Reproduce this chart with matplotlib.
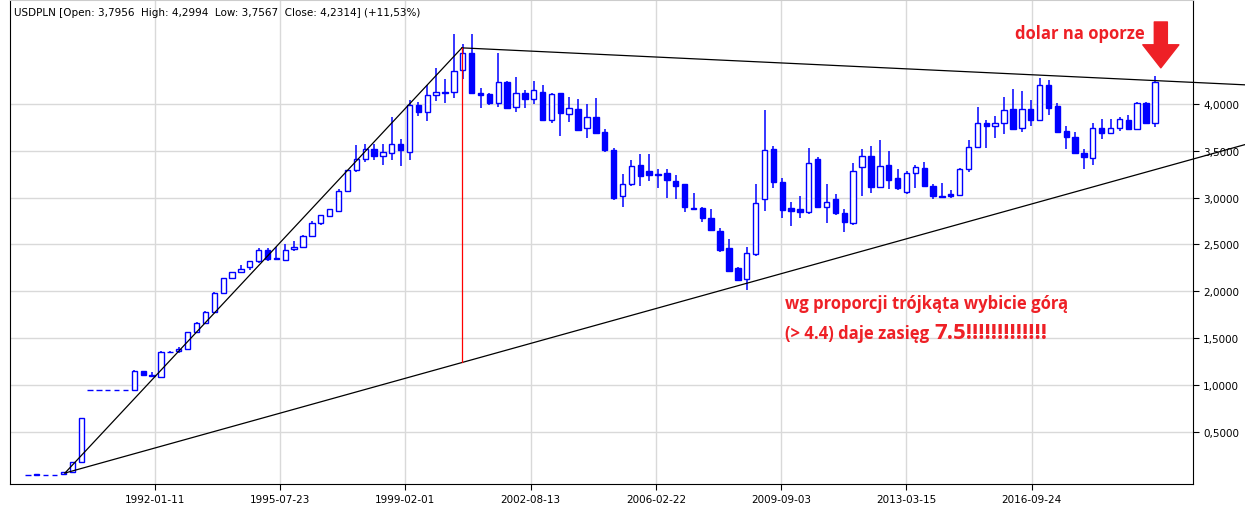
import matplotlib
matplotlib.use("Agg")
import matplotlib.pyplot as plt
import matplotlib.dates as mdates
import pandas as pd

# quarterly OHLC of USDPLN
opens = [0.046, 0.05, 0.046, 0.046, 0.05, 0.08, 0.18, 0.95, 0.95, 0.95, 0.95, 0.95,
         0.95, 1.15, 1.11, 1.09, 1.35, 1.36, 1.39, 1.57, 1.66, 1.78, 1.98, 2.14,
         2.21, 2.26, 2.32, 2.44, 2.36, 2.34, 2.45, 2.47, 2.59, 2.73, 2.80, 2.86,
         3.07, 3.29, 3.41, 3.52, 3.44, 3.48, 3.57, 3.49,
         3.99, 3.91, 4.09, 4.12, 4.13, 4.36, 4.54, 4.12, 4.10, 4.01, 4.23, 3.97,
         4.12, 4.05, 4.13, 3.83, 4.11, 3.89, 3.94, 3.74, 3.86, 3.70, 3.51, 3.02,
         3.15, 3.35, 3.28, 3.25, 3.26, 3.18, 3.14, 2.89, 2.89, 2.78, 2.64, 2.46,
         2.25, 2.13, 2.40, 2.98, 3.52, 3.17, 2.89, 2.88, 2.85,
         3.41, 2.90, 2.98, 2.84, 2.73, 3.33, 3.44, 3.11, 3.35, 3.21, 3.06, 3.26,
         3.32, 3.12, 3.02, 3.04, 3.03, 3.31, 3.54, 3.80, 3.76, 3.80, 3.94, 3.74,
         3.94, 3.83, 4.20, 3.98, 3.71, 3.65, 3.48, 3.42, 3.74, 3.69, 3.74, 3.83,
         3.73, 4.01, 3.7956]
closes = [0.046, 0.045, 0.046, 0.046, 0.07, 0.18, 0.65, 0.95, 0.95, 0.95, 0.95, 0.95,
          1.15, 1.11, 1.10, 1.35, 1.35, 1.39, 1.57, 1.66, 1.78, 1.98, 2.14, 2.21,
          2.24, 2.32, 2.44, 2.35, 2.35, 2.44, 2.47, 2.59, 2.73, 2.81, 2.88, 3.07,
          3.29, 3.41, 3.52, 3.44, 3.49, 3.57, 3.51, 3.99,
          3.91, 4.09, 4.13, 4.13, 4.35, 4.54, 4.12, 4.09, 4.01, 4.23, 3.96, 4.12,
          4.05, 4.15, 3.83, 4.10, 3.90, 3.95, 3.72, 3.86, 3.69, 3.51, 3.00, 3.15,
          3.34, 3.23, 3.24, 3.24, 3.19, 3.12, 2.90, 2.88, 2.78, 2.65, 2.44, 2.22,
          2.12, 2.41, 2.94, 3.51, 3.17, 2.87, 2.86, 2.85, 3.37,
          2.90, 2.95, 2.84, 2.74, 3.28, 3.44, 3.11, 3.34, 3.19, 3.10, 3.26, 3.33,
          3.12, 3.02, 3.01, 3.02, 3.31, 3.54, 3.80, 3.76, 3.80, 3.93, 3.73, 3.94,
          3.83, 4.20, 3.96, 3.70, 3.65, 3.48, 3.43, 3.74, 3.69, 3.74, 3.84, 3.73,
          4.01, 3.80, 4.2314]
highs = [0.046, 0.05, 0.046, 0.046, 0.07, 0.18, 0.65, 0.95, 0.95, 0.95, 0.95, 0.95,
         1.16, 1.15, 1.14, 1.36, 1.37, 1.41, 1.57, 1.67, 1.79, 1.99, 2.14, 2.21,
         2.28, 2.32, 2.46, 2.46, 2.47, 2.50, 2.54, 2.60, 2.75, 2.81, 2.88, 3.09,
         3.29, 3.56, 3.57, 3.57, 3.57, 3.86, 3.62, 4.04,
         4.02, 4.20, 4.38, 4.26, 4.74, 4.64, 4.74, 4.17, 4.11, 4.54, 4.24, 4.29,
         4.15, 4.24, 4.20, 4.11, 4.12, 4.07, 4.05, 4.00, 4.06, 3.73, 3.53, 3.25,
         3.40, 3.46, 3.46, 3.31, 3.30, 3.24, 3.15, 3.05, 2.90, 2.88, 2.68, 2.56,
         2.26, 2.47, 3.15, 3.93, 3.55, 3.21, 2.95, 3.02, 3.53,
         3.43, 3.14, 3.04, 2.88, 3.37, 3.52, 3.55, 3.61, 3.50, 3.31, 3.28, 3.35,
         3.38, 3.14, 3.16, 3.08, 3.32, 3.61, 3.97, 3.83, 3.87, 4.07, 4.16, 4.14,
         4.04, 4.28, 4.25, 4.01, 3.76, 3.70, 3.52, 3.79, 3.84, 3.84, 3.86, 3.88,
         4.02, 4.02, 4.2994]
lows = [0.046, 0.045, 0.046, 0.046, 0.05, 0.08, 0.18, 0.95, 0.95, 0.95, 0.95, 0.95,
        0.95, 1.11, 1.10, 1.09, 1.35, 1.34, 1.39, 1.57, 1.66, 1.78, 1.98, 2.14,
        2.21, 2.23, 2.30, 2.32, 2.35, 2.34, 2.43, 2.47, 2.58, 2.71, 2.79, 2.86,
        3.06, 3.27, 3.38, 3.40, 3.35, 3.40, 3.34, 3.40,
        3.87, 3.82, 4.03, 4.01, 4.06, 4.26, 4.11, 3.95, 3.99, 3.97, 3.94, 3.91,
        3.96, 4.00, 3.82, 3.79, 3.66, 3.81, 3.71, 3.64, 3.68, 3.49, 2.97, 2.90,
        3.12, 3.12, 3.18, 3.10, 3.00, 2.99, 2.85, 2.87, 2.74, 2.64, 2.42, 2.21,
        2.11, 2.02, 2.38, 2.86, 3.10, 2.78, 2.70, 2.78, 2.82,
        2.89, 2.73, 2.81, 2.63, 2.71, 3.02, 3.05, 3.10, 3.09, 3.08, 3.04, 3.10,
        3.11, 2.98, 3.00, 3.00, 3.02, 3.27, 3.53, 3.53, 3.63, 3.68, 3.72, 3.70,
        3.76, 3.82, 3.88, 3.69, 3.52, 3.47, 3.31, 3.35, 3.62, 3.68, 3.71, 3.72,
        3.72, 3.79, 3.7567]

tick_dates = ['1992-01-11', '1995-07-23', '1999-02-01', '2002-08-13',
              '2006-02-22', '2009-09-03', '2013-03-15', '2016-09-24']
y_ticks = [0.5, 1.0, 1.5, 2.0, 2.5, 3.0, 3.5, 4.0]

# trend lines (date, value)
rise_line = [('1989-07-01', 0.064), ('2000-09-05', 4.596)]
upper_line = [('2000-09-05', 4.596), ('2022-09-25', 4.202)]
lower_line = [('1989-07-01', 0.064), ('2022-09-25', 3.564)]
red_line = [('2000-09-05', 4.596), ('2000-09-05', 1.245)]

blue = '#0000ff'
red = '#ee2026'

dates = pd.date_range('1988-04-01', periods=len(opens), freq='QS') + pd.Timedelta(days=75)
x = mdates.date2num(dates)

fig = plt.figure(figsize=(12.45, 5.06), dpi=100)
ax = fig.add_axes([0.008, 0.0415, 0.95, 0.9565])

ax.vlines(x, lows, highs, color=blue, lw=1.1, zorder=2)
up = [c >= o for o, c in zip(opens, closes)]
bottoms = [min(o, c) for o, c in zip(opens, closes)]
heights = [abs(c - o) for o, c in zip(opens, closes)]
faces = ['white' if u else blue for u in up]
ax.bar(x, heights, bottom=bottoms, width=55, color=faces, edgecolor=blue,
       linewidth=1.0, zorder=3)

for line, col in [(rise_line, 'black'), (upper_line, 'black'),
                  (lower_line, 'black'), (red_line, 'red')]:
    lx = mdates.date2num(pd.to_datetime([p[0] for p in line]))
    ly = [p[1] for p in line]
    ax.plot(lx, ly, color=col, lw=0.9, zorder=4, clip_on=False)

ax.set_xlim(mdates.date2num(pd.Timestamp('1987-12-13')),
            mdates.date2num(pd.Timestamp('2021-04-08')))
ax.set_ylim(-0.053, 5.106)
ax.set_xticks(mdates.date2num(pd.to_datetime(tick_dates)))
ax.set_xticklabels(tick_dates)
ax.set_yticks(y_ticks)
ax.set_yticklabels([f'{v:.4f}'.replace('.', ',') for v in y_ticks])
ax.yaxis.tick_right()
ax.tick_params(labelsize=7.5, length=4, colors='black')
ax.grid(True, color='#d9d9d9', lw=1)
ax.set_axisbelow(True)
ax.spines['top'].set_color('#cccccc')

ax.text(0.003, 0.985, 'USDPLN [Open: 3,7956  High: 4,2994  Low: 3,7567  Close: 4,2314] (+11,53%)',
        transform=ax.transAxes, fontsize=7.5, va='top', ha='left')

ax.text(0.9045, 0.932, 'dolar na oporze', transform=ax.transAxes, color=red,
        fontsize=12, fontweight='bold', family='Open Sans', ha='center', va='center')
arrow_x = mdates.date2num(pd.Timestamp('2020-05-15'))
ax.annotate('', xy=(arrow_x, 4.383), xytext=(arrow_x, 4.872),
            arrowprops=dict(arrowstyle='simple,head_length=0.83,head_width=1.3,tail_width=0.47',
                            color=red, mutation_scale=20, shrinkA=0, shrinkB=0),
            annotation_clip=False)
ax.text(0.655, 0.375, 'wg proporcji trójkąta wybicie górą', transform=ax.transAxes,
        color=red, fontsize=12, fontweight='bold', family='Open Sans', va='center')
ax.text(0.655, 0.313, '(> 4.4) daje zasięg', transform=ax.transAxes,
        color=red, fontsize=12, fontweight='bold', family='Open Sans', va='center')
ax.text(0.782, 0.313, '7.5!!!!!!!!!!!!!', transform=ax.transAxes,
        color=red, fontsize=16, fontweight='bold', family='Open Sans', va='center')

fig.savefig('out.png', dpi=100)
